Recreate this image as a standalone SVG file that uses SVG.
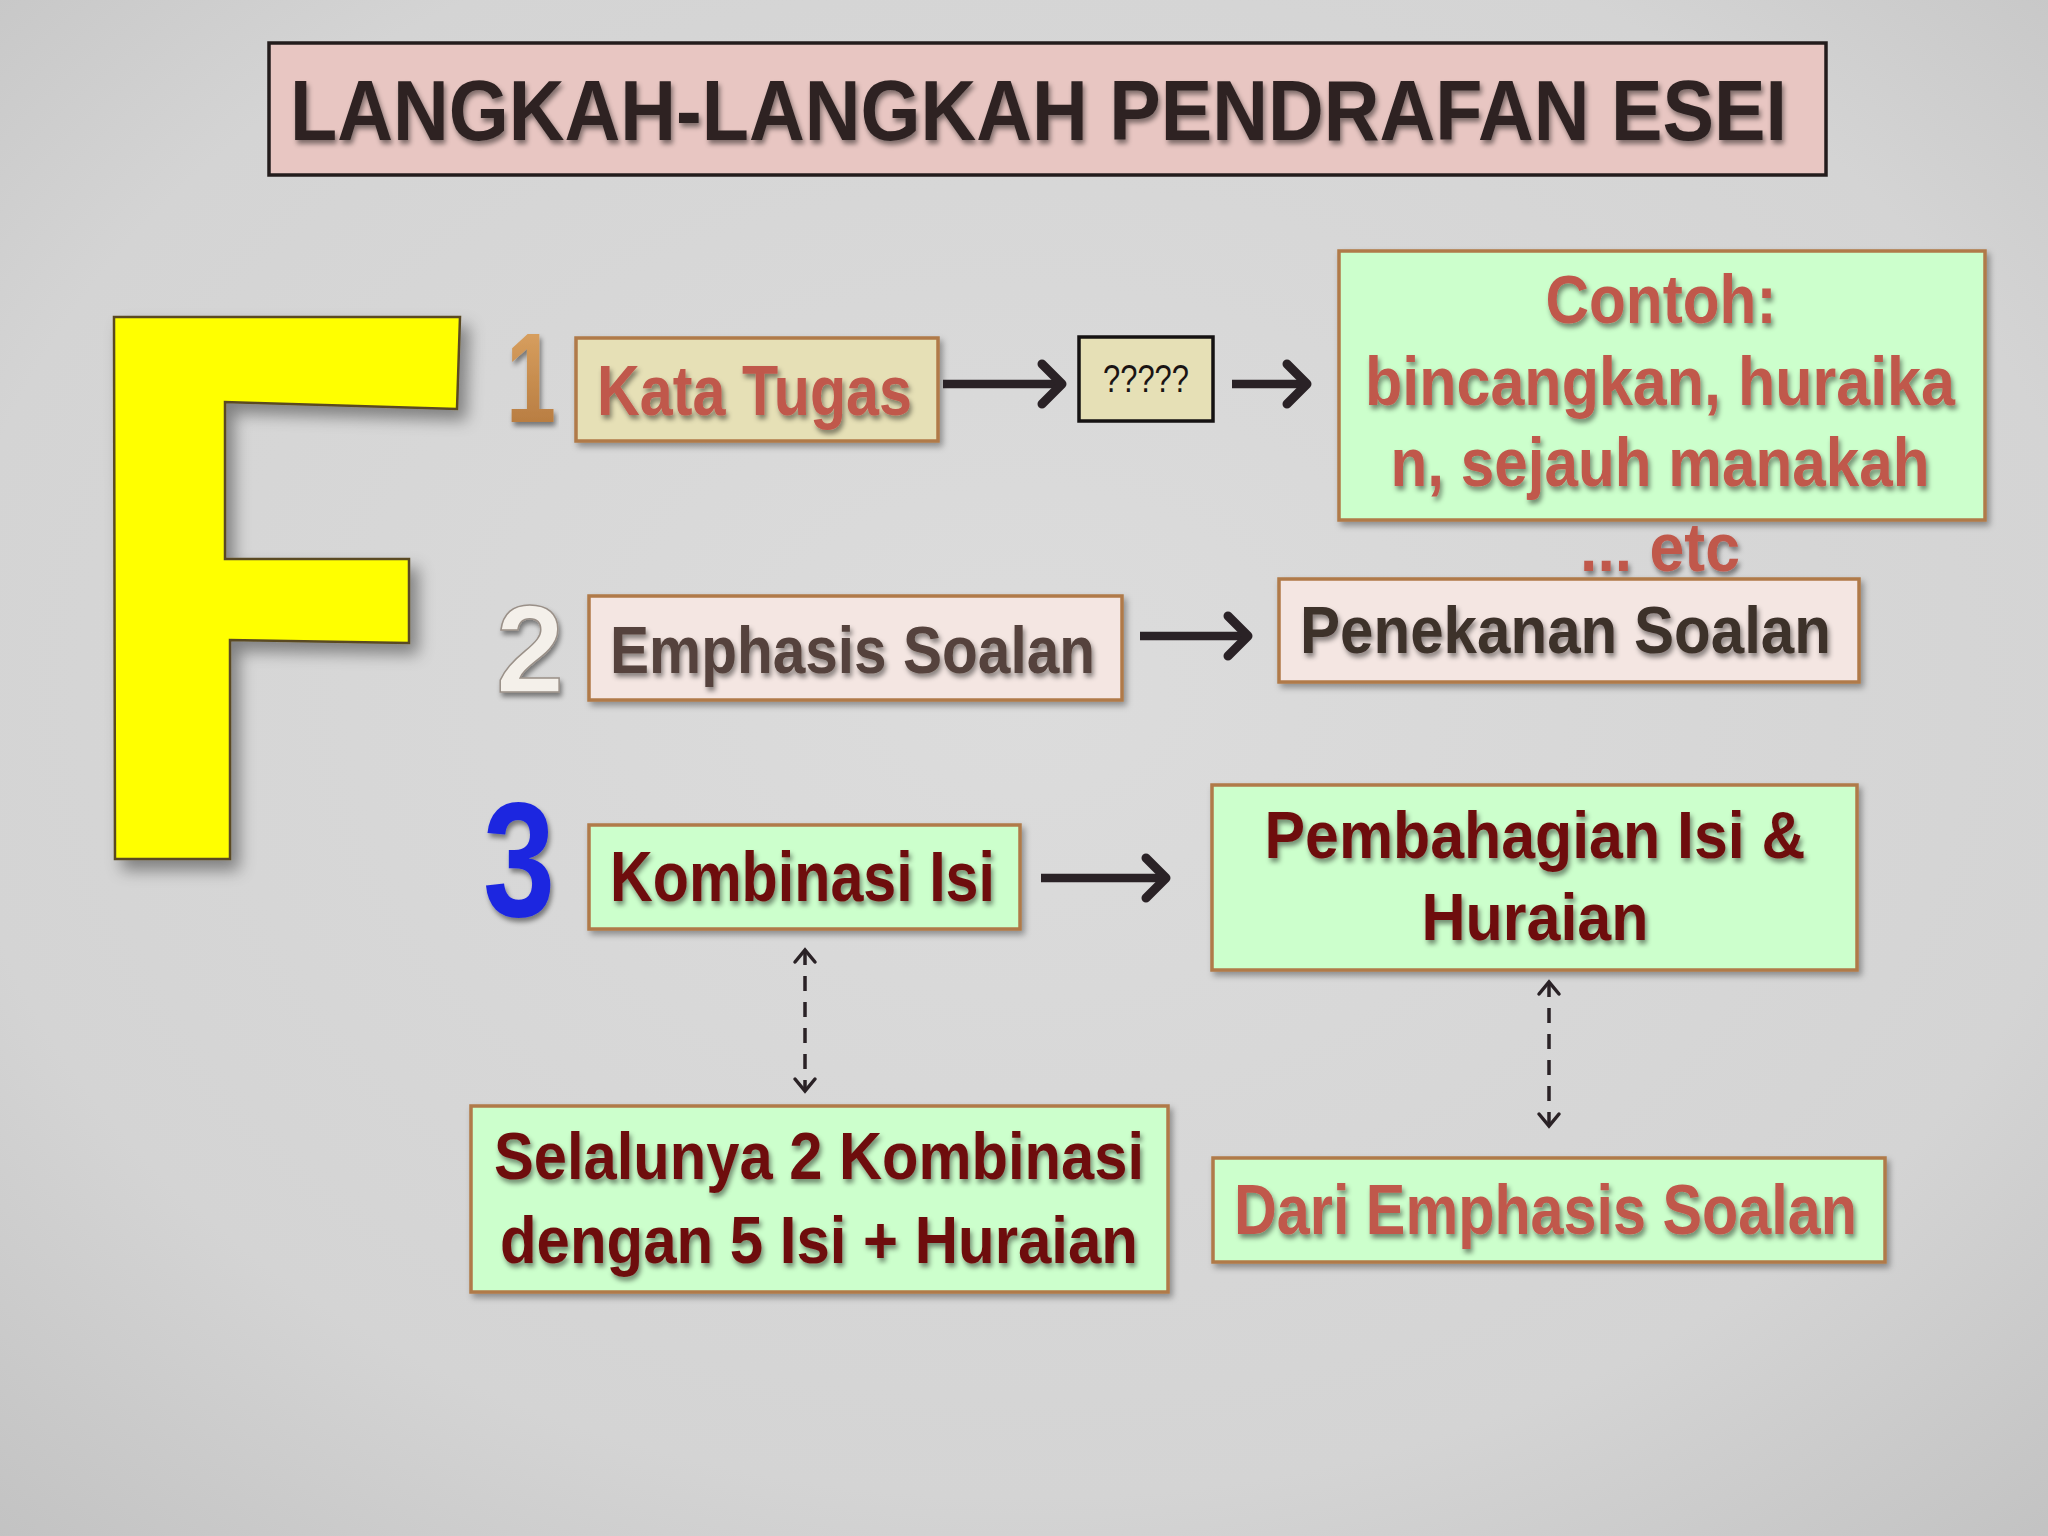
<svg xmlns="http://www.w3.org/2000/svg" width="2048" height="1536" viewBox="0 0 2048 1536">
<defs>
<radialGradient id="bg" cx="50%" cy="45%" r="75%">
<stop offset="0" stop-color="#dcdcdc"/>
<stop offset="0.7" stop-color="#d4d4d4"/>
<stop offset="1" stop-color="#c2c2c2"/>
</radialGradient>
<linearGradient id="gold" x1="0" y1="0" x2="0" y2="1">
<stop offset="0" stop-color="#e0a866"/>
<stop offset="1" stop-color="#b0743a"/>
</linearGradient>
<filter id="sh" x="-10%" y="-10%" width="130%" height="140%">
<feDropShadow dx="3" dy="4" stdDeviation="3" flood-color="#000" flood-opacity="0.35"/>
</filter>
<filter id="tsh" x="-5%" y="-20%" width="110%" height="150%">
<feDropShadow dx="2" dy="4" stdDeviation="2.5" flood-color="#000" flood-opacity="0.45"/>
</filter>
<filter id="fsh" x="-20%" y="-10%" width="150%" height="130%">
<feDropShadow dx="8" dy="10" stdDeviation="8" flood-color="#000" flood-opacity="0.4"/>
</filter>
<marker id="arr" viewBox="0 0 34 52" markerUnits="userSpaceOnUse" markerWidth="34" markerHeight="52" refX="27" refY="26" orient="auto">
<path d="M7,6 L27,26 L7,46" fill="none" stroke="#2a2226" stroke-width="9" stroke-linecap="round" stroke-linejoin="round"/>
</marker>
<marker id="darr" viewBox="0 0 22 28" markerUnits="userSpaceOnUse" markerWidth="22" markerHeight="28" refX="16" refY="14" orient="auto-start-reverse">
<path d="M4,4 L16,14 L4,24" fill="none" stroke="#2a2226" stroke-width="3.5" stroke-linecap="round"/>
</marker>
<style>
.t{font-family:"Liberation Sans","Open Sans",Arial,sans-serif;font-weight:bold;}
.box{stroke:#b07a48;stroke-width:3.5;}
.green{fill:#ccffcc;}
.pink{fill:#f4e6e2;}
.khaki{fill:#e6e0b6;}
.red{fill:#c0584c;}
.dred{fill:#6e1010;}
.brown{fill:#54433c;}
.conn{stroke:#2a2226;stroke-width:8.5;fill:none;}
.dash{stroke:#2a2226;stroke-width:3.5;fill:none;stroke-dasharray:15 11;}
</style>
</defs>
<rect width="2048" height="1536" fill="url(#bg)"/>

<g id="title">
<rect x="269" y="43" width="1557" height="132" fill="#e8c6c2" stroke="#231c1c" stroke-width="3.5"/>
<text class="t" x="290" y="140" font-size="86" fill="#2e2424" textLength="1497" lengthAdjust="spacingAndGlyphs" filter="url(#tsh)">LANGKAH-LANGKAH PENDRAFAN ESEI</text>
</g>

<g id="bigF">
<polygon points="114,317 460,317 457,409 225,402 225,559 409,559 409,643 230,640 230,859 115,859" fill="#ffff00" stroke="#5a4a20" stroke-width="2.5" filter="url(#fsh)"/>
</g>

<g id="num1"><text class="t" x="531" y="422" font-size="128" text-anchor="middle" fill="url(#gold)" textLength="50" lengthAdjust="spacingAndGlyphs" filter="url(#tsh)">1</text></g>
<g id="num2"><text class="t" x="530" y="692" font-size="124" text-anchor="middle" fill="#f4f0ea" stroke="#9a9088" stroke-width="1.5" textLength="68" lengthAdjust="spacingAndGlyphs" filter="url(#tsh)">2</text></g>
<g id="num3"><text class="t" x="519" y="916" font-size="164" text-anchor="middle" fill="#1c28e0" textLength="72" lengthAdjust="spacingAndGlyphs" filter="url(#tsh)">3</text></g>

<g id="kataTugas">
<rect class="box khaki" x="576" y="338" width="362" height="103" filter="url(#sh)"/>
<text class="t red" x="597" y="415" font-size="70" textLength="315" lengthAdjust="spacingAndGlyphs" filter="url(#tsh)">Kata Tugas</text>
</g>

<g id="question">
<rect x="1079" y="337" width="134" height="84" fill="#e6e0b6" stroke="#151212" stroke-width="3.5"/>
<text x="1146" y="392" font-family="Liberation Sans, Arial, sans-serif" font-size="38" text-anchor="middle" fill="#1a1414" textLength="86" lengthAdjust="spacingAndGlyphs">?????</text>
</g>

<g id="contoh">
<rect class="box green" x="1339" y="251" width="646" height="269" filter="url(#sh)"/>
<text class="t red" x="1661" y="323" font-size="68" text-anchor="middle" textLength="231" lengthAdjust="spacingAndGlyphs" filter="url(#tsh)">Contoh:</text>
<text class="t red" x="1660" y="405" font-size="68" text-anchor="middle" textLength="590" lengthAdjust="spacingAndGlyphs" filter="url(#tsh)">bincangkan, huraika</text>
<text class="t red" x="1660" y="486" font-size="68" text-anchor="middle" textLength="539" lengthAdjust="spacingAndGlyphs" filter="url(#tsh)">n, sejauh manakah</text>
<text class="t red" x="1660" y="571" font-size="68" text-anchor="middle" textLength="160" lengthAdjust="spacingAndGlyphs" filter="url(#tsh)">... etc</text>
</g>

<g id="emphasis">
<rect class="box pink" x="589" y="596" width="533" height="104" filter="url(#sh)"/>
<text class="t brown" x="610" y="673" font-size="67" textLength="485" lengthAdjust="spacingAndGlyphs" filter="url(#tsh)">Emphasis Soalan</text>
</g>

<g id="penekanan">
<rect class="box pink" x="1279" y="579" width="580" height="103" filter="url(#sh)"/>
<text class="t" x="1300" y="653" font-size="66" fill="#3e302c" textLength="531" lengthAdjust="spacingAndGlyphs" filter="url(#tsh)">Penekanan Soalan</text>
</g>

<g id="kombinasi">
<rect class="box green" x="589" y="825" width="431" height="104" filter="url(#sh)"/>
<text class="t dred" x="610" y="901" font-size="70" textLength="385" lengthAdjust="spacingAndGlyphs" filter="url(#tsh)">Kombinasi Isi</text>
</g>

<g id="pembahagian">
<rect class="box green" x="1212" y="785" width="645" height="185" filter="url(#sh)"/>
<text class="t dred" x="1535" y="858" font-size="66" text-anchor="middle" textLength="541" lengthAdjust="spacingAndGlyphs" filter="url(#tsh)">Pembahagian Isi &amp;</text>
<text class="t dred" x="1535" y="940" font-size="66" text-anchor="middle" textLength="227" lengthAdjust="spacingAndGlyphs" filter="url(#tsh)">Huraian</text>
</g>

<g id="selalunya">
<rect class="box green" x="471" y="1106" width="697" height="186" filter="url(#sh)"/>
<text class="t dred" x="819" y="1179" font-size="66" text-anchor="middle" textLength="650" lengthAdjust="spacingAndGlyphs" filter="url(#tsh)">Selalunya 2 Kombinasi</text>
<text class="t dred" x="819" y="1263" font-size="66" text-anchor="middle" textLength="638" lengthAdjust="spacingAndGlyphs" filter="url(#tsh)">dengan 5 Isi + Huraian</text>
</g>

<g id="dari">
<rect class="box green" x="1213" y="1158" width="672" height="104" filter="url(#sh)"/>
<text class="t red" x="1234" y="1234" font-size="70" textLength="623" lengthAdjust="spacingAndGlyphs" filter="url(#tsh)">Dari Emphasis Soalan</text>
</g>

<g id="connectors">
<line class="conn" x1="943" y1="384" x2="1062" y2="384" marker-end="url(#arr)"/>
<line class="conn" x1="1232" y1="384" x2="1307" y2="384" marker-end="url(#arr)"/>
<line class="conn" x1="1140" y1="636" x2="1248" y2="636" marker-end="url(#arr)"/>
<line class="conn" x1="1041" y1="878" x2="1166" y2="878" marker-end="url(#arr)"/>
<line class="dash" x1="805" y1="950" x2="805" y2="1091" marker-start="url(#darr)" marker-end="url(#darr)"/>
<line class="dash" x1="1549" y1="982" x2="1549" y2="1126" marker-start="url(#darr)" marker-end="url(#darr)"/>
</g>
</svg>
